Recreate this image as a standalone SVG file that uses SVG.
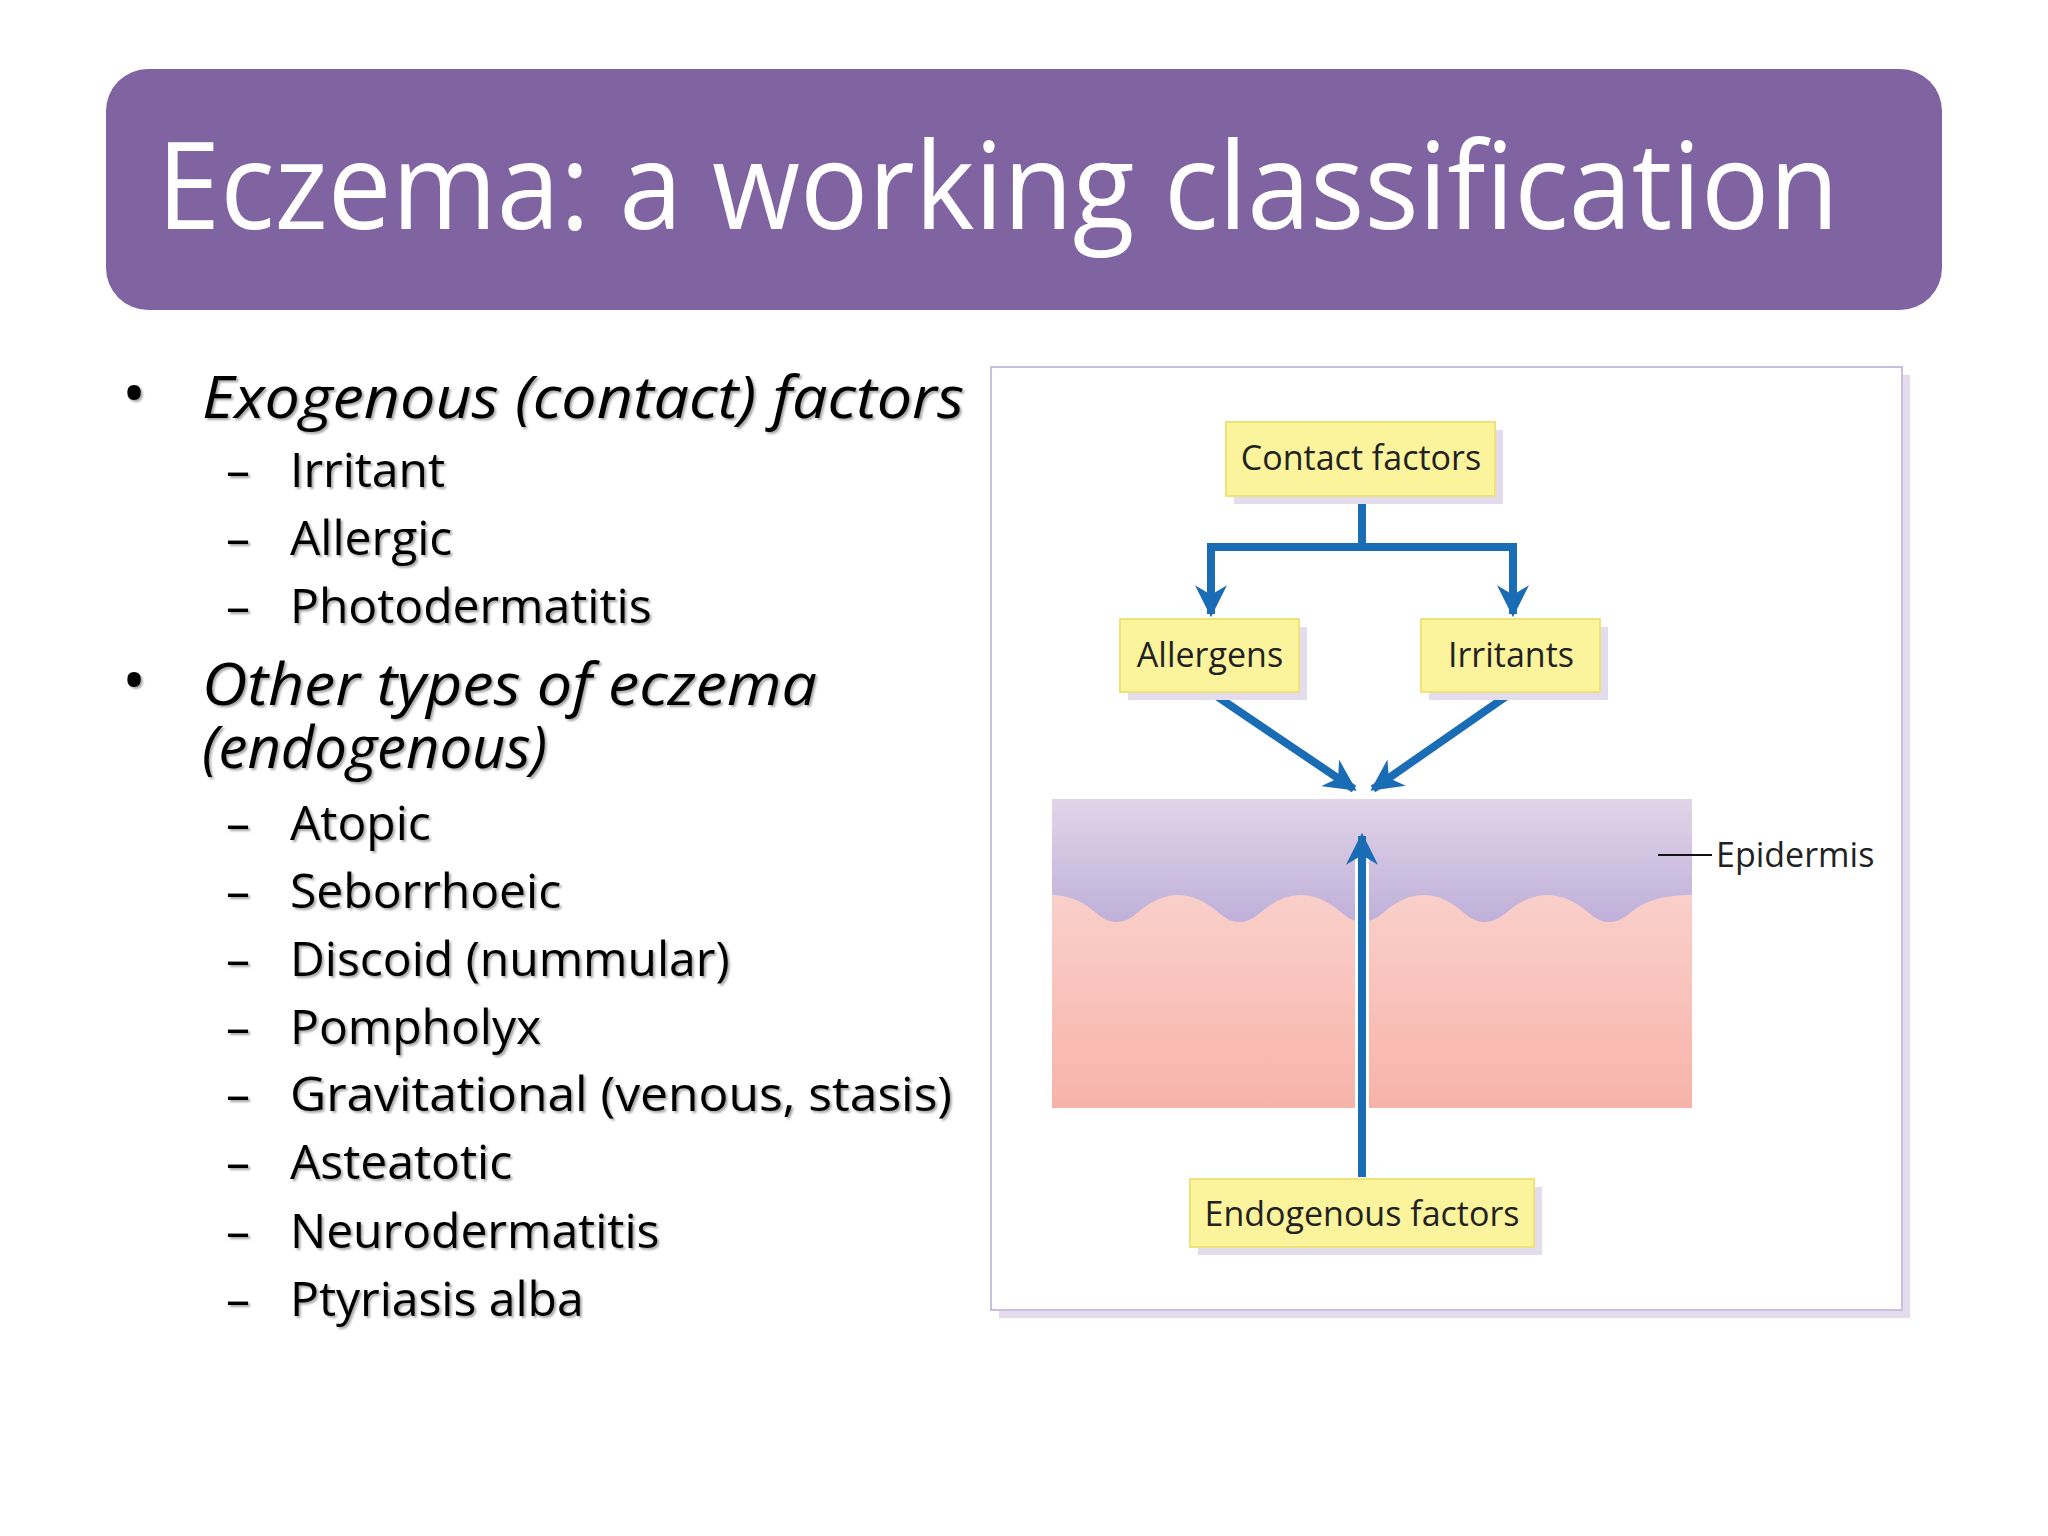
<svg xmlns="http://www.w3.org/2000/svg" width="2048" height="1536" viewBox="0 0 2048 1536">
<defs>
<style>
.t{font-family:"Open Sans","Liberation Sans",sans-serif;fill:#000}
.lbl{font-family:"Open Sans","Liberation Sans",sans-serif;font-size:34px;fill:#222;text-anchor:middle}
.box{fill:#fbf49c;stroke:#efe27a;stroke-width:2}
.sh{fill:#e2dcec}
.con{stroke:#1a6db5;stroke-width:8;fill:none}
</style>
<filter id="ts" x="-5%" y="-20%" width="110%" height="140%">
<feDropShadow dx="2" dy="2" stdDeviation="1" flood-color="#000" flood-opacity="0.35"/>
</filter>
<marker id="ah" viewBox="0 0 10 10" refX="9" refY="5" markerWidth="4" markerHeight="4" orient="auto" markerUnits="strokeWidth">
<path d="M0,0 L10,5 L0,10 L3,5 z" fill="#1a6db5"/>
</marker>
<linearGradient id="epi" x1="0" y1="0" x2="0" y2="1"><stop offset="0" stop-color="#e2d4e8"/><stop offset="1" stop-color="#bfb0da"/></linearGradient>
<linearGradient id="der" x1="0" y1="0" x2="0" y2="1"><stop offset="0" stop-color="#fbdcd8"/><stop offset="1" stop-color="#f7b3aa"/></linearGradient>
</defs>
<rect width="2048" height="1536" fill="#fff"/>
<g id="title">
<rect x="106" y="69" width="1836" height="241" rx="42" fill="#8064a2"/>
<text x="157" y="229" class="t" style="fill:#fff;font-size:120px" textLength="1682" lengthAdjust="spacingAndGlyphs">Eczema: a working classification</text>
</g>
<g id="list" class="t" filter="url(#ts)">
<text x="122" y="416" style="font-size:64px">•</text>
<text x="202" y="418" style="font-size:58px;font-style:italic;font-weight:500" textLength="762" lengthAdjust="spacingAndGlyphs">Exogenous (contact) factors</text>
<g style="font-size:48px;font-weight:500">
<text x="226" y="487">–</text><text x="290" y="487">Irritant</text>
<text x="226" y="555">–</text><text x="290" y="555">Allergic</text>
<text x="226" y="623">–</text><text x="290" y="623">Photodermatitis</text>
</g>
<text x="122" y="703" style="font-size:64px">•</text>
<text x="202" y="705" style="font-size:58px;font-style:italic;font-weight:500" textLength="615" lengthAdjust="spacingAndGlyphs">Other types of eczema</text>
<text x="202" y="768" style="font-size:58px;font-style:italic;font-weight:500">(endogenous)</text>
<g style="font-size:48px;font-weight:500">
<text x="226" y="840">–</text><text x="290" y="840">Atopic</text>
<text x="226" y="908">–</text><text x="290" y="908">Seborrhoeic</text>
<text x="226" y="976">–</text><text x="290" y="976">Discoid (nummular)</text>
<text x="226" y="1044">–</text><text x="290" y="1044">Pompholyx</text>
<text x="226" y="1111">–</text><text x="290" y="1111" textLength="662" lengthAdjust="spacingAndGlyphs">Gravitational (venous, stasis)</text>
<text x="226" y="1179">–</text><text x="290" y="1179">Asteatotic</text>
<text x="226" y="1248">–</text><text x="290" y="1248">Neurodermatitis</text>
<text x="226" y="1316">–</text><text x="290" y="1316">Ptyriasis alba</text>
</g>
</g>
<g id="panel">
<rect x="999" y="375" width="911" height="943" fill="#e4dcee"/>
<rect x="991" y="367" width="911" height="943" fill="#fff" stroke="#c9bfdc" stroke-width="2"/>
</g>
<g id="skin">
<rect x="1052" y="799" width="640" height="309" fill="url(#der)"/>
<path d="M1052,799 H1692 V895 Q1650,895 1630,913 Q1609,931 1589,913 Q1568,895 1547,895 Q1527,895 1506,913 Q1484,931 1464,913 Q1444,895 1424,895 Q1403,895 1383,913 Q1362,931 1342,913 Q1321,895 1301,895 Q1280,895 1260,913 Q1239,931 1219,913 Q1198,895 1178,895 Q1158,895 1137,913 Q1117,931 1096,913 Q1076,895 1052,895 Z" fill="url(#epi)"/>
</g>
<g id="epidermis-label">
<line x1="1658" y1="855" x2="1712" y2="855" stroke="#111" stroke-width="2"/>
<text x="1716" y="867" class="t" style="font-size:34px;fill:#222">Epidermis</text>
</g>
<g id="connectors">
<path class="con" d="M1362,496 V547 M1211,547 H1513"/>
<path class="con" d="M1211,543 V614" marker-end="url(#ah)"/>
<path class="con" d="M1513,543 V614" marker-end="url(#ah)"/>
<path class="con" d="M1212,693 L1354,789" marker-end="url(#ah)"/>
<path class="con" d="M1511,693 L1373,789" marker-end="url(#ah)"/>
<path d="M1362,1175 V850" stroke="#fff" stroke-width="14" fill="none"/>
<path class="con" d="M1362,1177 V836" marker-end="url(#ah)"/>
</g>
<g id="contact">
<rect class="sh" x="1234" y="430" width="269" height="74"/>
<rect class="box" x="1226" y="422" width="269" height="74"/>
<text class="lbl" x="1361" y="470">Contact factors</text>
</g>
<g id="allergens">
<rect class="sh" x="1128" y="627" width="179" height="73"/>
<rect class="box" x="1120" y="619" width="179" height="73"/>
<text class="lbl" x="1210" y="667">Allergens</text>
</g>
<g id="irritants">
<rect class="sh" x="1429" y="627" width="179" height="73"/>
<rect class="box" x="1421" y="619" width="179" height="73"/>
<text class="lbl" x="1511" y="667">Irritants</text>
</g>
<g id="endogenous">
<rect class="sh" x="1198" y="1187" width="344" height="68"/>
<rect class="box" x="1190" y="1179" width="344" height="68"/>
<text class="lbl" x="1362" y="1226">Endogenous factors</text>
</g>
</svg>
